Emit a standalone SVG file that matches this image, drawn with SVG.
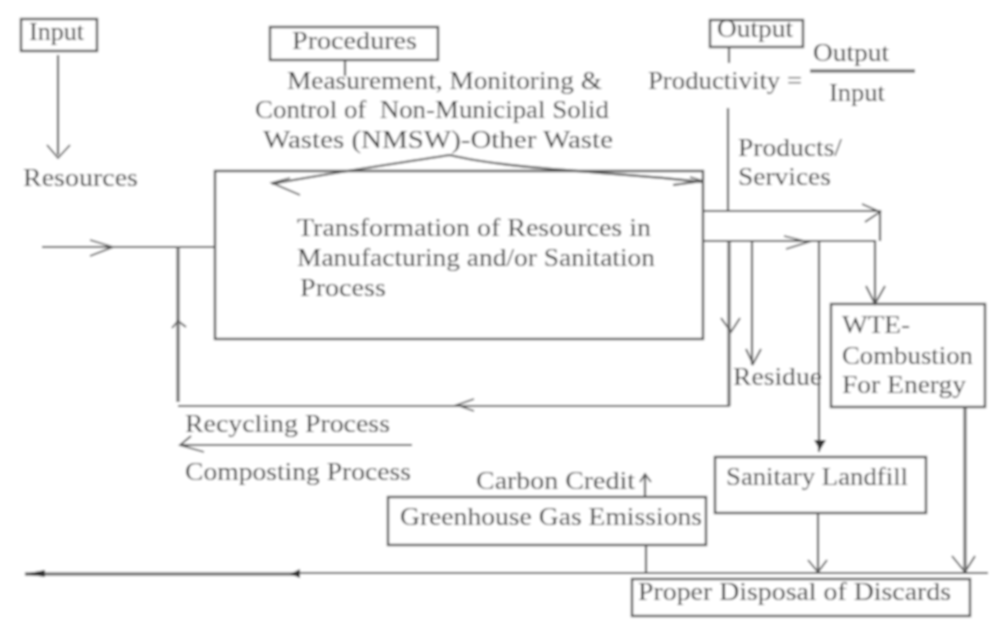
<svg xmlns="http://www.w3.org/2000/svg" width="1004" height="634" viewBox="0 0 1004 634">
<defs>
<style>
text{font-family:"Liberation Serif","Times New Roman",serif;font-size:26px;fill:#3a3a3a}
.b{fill:none;stroke:#555;stroke-width:2.4}
.c{fill:none;stroke:#555;stroke-width:2.2}
.t{stroke-width:3.4;stroke:#777}
.h{fill:none;stroke:#555;stroke-width:1.8}
.f{fill:#333;stroke:none}
</style>
<filter id="soft" x="0" y="0" width="1" height="1" filterUnits="objectBoundingBox"><feGaussianBlur stdDeviation="0.8"/></filter>
</defs>
<rect width="1004" height="634" fill="#fff"/>
<g filter="url(#soft)">
<rect width="1004" height="634" fill="#fff"/>
<g id="connectors">
<path class="c" d="M58 55V155"/><path class="h" d="M47 145L58 158L70 145"/>
<path class="c" d="M345 60V76"/>
<path class="c" d="M42 247H215"/><path class="h" d="M90 240L113 247L90 256"/>
<path class="c t" d="M178 247V402"/><path class="h" d="M172 328L178 321L186 327"/>
<path class="c" d="M178 406H730"/><path class="h" d="M474 399L457 405L474 411"/>
<path class="c" d="M729 47V63"/>
<path class="c" d="M728 108V210"/>
<path class="c t" d="M729 241V406"/><path class="h" d="M721 318L731 332L740 318"/>
<path class="c" d="M703 211H880V241"/><path class="h" d="M862 204L880 212L865 222"/>
<path class="c" d="M703 241H875V304"/><path class="h" d="M784 236L808 242L786 249"/>
<path class="h" d="M866 286L875 304L885 286"/>
<path class="c" d="M752 241V365"/><path class="h" d="M746 349L753 364L761 349"/>
<path class="c" d="M819 241V452"/><path class="f" d="M814 440H826L820 450Z"/>
<path class="c" d="M272 184C330 173 400 163 450 155C510 170 620 172 703 182"/>
<path class="h" d="M290 178L272 183L300 195"/><path class="h" d="M673 185L703 181L690 177"/>
<path class="c" d="M412 445H180"/><path class="h" d="M191 436L180 445L204 452"/>
<path class="c" d="M295 573H988"/><path class="c t" d="M25 574H295"/><path class="f" d="M24 574L45 570V577Z"/><path class="f" d="M290 574L300 569V578Z"/>
<path class="c" d="M818 513V572"/><path class="h" d="M808 560L818 572L827 560"/>
<path class="c t" d="M965 407V572"/><path class="h" d="M952 556L965 572L975 556"/>
<path class="c" d="M646 545V573"/>
<path class="c" d="M645 497V474"/><path class="h" d="M640 482L645 474L651 482"/>
</g>
<g id="input"><rect class="b" x="21" y="19" width="76" height="32"/><text x="29" y="40" textLength="55" lengthAdjust="spacingAndGlyphs">Input</text></g>
<text x="23" y="186" textLength="115" lengthAdjust="spacingAndGlyphs">Resources</text>
<g id="procedures"><rect class="b" x="270" y="27" width="168" height="33"/><text x="292" y="49" textLength="125" lengthAdjust="spacingAndGlyphs">Procedures</text></g>
<text x="287" y="89" textLength="315" lengthAdjust="spacingAndGlyphs">Measurement, Monitoring &amp;</text>
<text x="255" y="118" textLength="354" lengthAdjust="spacingAndGlyphs" xml:space="preserve">Control of  Non-Municipal Solid</text>
<text x="263" y="148" textLength="350" lengthAdjust="spacingAndGlyphs">Wastes (NMSW)-Other Waste</text>
<g id="transformation"><rect class="b" x="215" y="171" width="488" height="168"/>
<text x="297" y="236" textLength="354" lengthAdjust="spacingAndGlyphs">Transformation of Resources in</text>
<text x="297" y="266" textLength="358" lengthAdjust="spacingAndGlyphs">Manufacturing and/or Sanitation</text>
<text x="300" y="296" textLength="86" lengthAdjust="spacingAndGlyphs">Process</text></g>
<g id="output"><rect class="b" x="710" y="20" width="93" height="27"/><text x="717" y="37" textLength="76" lengthAdjust="spacingAndGlyphs">Output</text></g>
<g id="productivity"><text x="648" y="89" textLength="154" lengthAdjust="spacingAndGlyphs">Productivity =</text>
<text x="813" y="61" textLength="76" lengthAdjust="spacingAndGlyphs">Output</text>
<path class="c t" d="M810 71H915"/>
<text x="829" y="101" textLength="56" lengthAdjust="spacingAndGlyphs">Input</text></g>
<text x="738" y="156" textLength="104" lengthAdjust="spacingAndGlyphs">Products/</text>
<text x="738" y="185" textLength="93" lengthAdjust="spacingAndGlyphs">Services</text>
<text x="733" y="385" textLength="89" lengthAdjust="spacingAndGlyphs">Residue</text>
<g id="wte"><rect class="b" x="831" y="304" width="154" height="103"/>
<text x="842" y="333" textLength="68" lengthAdjust="spacingAndGlyphs">WTE-</text>
<text x="842" y="364" textLength="131" lengthAdjust="spacingAndGlyphs">Combustion</text>
<text x="842" y="393" textLength="124" lengthAdjust="spacingAndGlyphs">For Energy</text></g>
<text x="185" y="432" textLength="205" lengthAdjust="spacingAndGlyphs">Recycling Process</text>
<text x="185" y="480" textLength="226" lengthAdjust="spacingAndGlyphs">Composting Process</text>
<text x="476" y="489" textLength="159" lengthAdjust="spacingAndGlyphs">Carbon Credit</text>
<g id="ghg"><rect class="b" x="388" y="497" width="318" height="48"/><text x="400" y="525" textLength="302" lengthAdjust="spacingAndGlyphs">Greenhouse Gas Emissions</text></g>
<g id="landfill"><rect class="b" x="715" y="457" width="211" height="56"/><text x="726" y="485" textLength="182" lengthAdjust="spacingAndGlyphs">Sanitary Landfill</text></g>
<g id="disposal"><rect class="b" x="632" y="579" width="338" height="37"/><text x="638" y="600" textLength="313" lengthAdjust="spacingAndGlyphs">Proper Disposal of Discards</text></g>
</g>
</svg>
